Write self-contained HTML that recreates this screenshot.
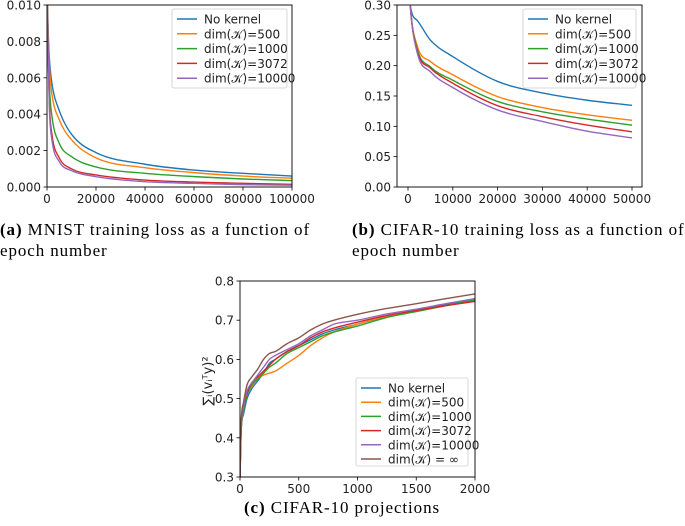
<!DOCTYPE html>
<html><head><meta charset="utf-8">
<style>
body{margin:0;background:#fff;width:685px;height:526px;overflow:hidden;position:relative}
svg{position:absolute;left:0;top:0}
.cap{position:absolute;font-family:"Liberation Serif",serif;font-size:17px;color:#000;line-height:21px;letter-spacing:0.9px;white-space:nowrap}
.tick{font-family:"DejaVu Sans",sans-serif;font-size:12px;fill:#222}
.leg{font-family:"DejaVu Sans",sans-serif;font-size:12px;fill:#222}
</style></head><body>
<svg id="svg" width="685" height="526"></svg>
<div class="cap" style="left:0;top:219px"><b>(a)</b> MNIST training loss as a function of<br>epoch number</div>
<div class="cap" style="left:352px;top:219px"><b>(b)</b> CIFAR-10 training loss as a function of<br>epoch number</div>
<div class="cap" style="left:244px;top:497px"><b>(c)</b> CIFAR-10 projections</div>
<script>
const colors=['#1f77b4','#ff7f0e','#2ca02c','#d62728','#9467bd','#8c564b'];
const labelsAB=['No kernel','dim(𝒦)=500','dim(𝒦)=1000','dim(𝒦)=3072','dim(𝒦)=10000'];
const labelsC=['No kernel','dim(𝒦)=500','dim(𝒦)=1000','dim(𝒦)=3072','dim(𝒦)=10000','dim(𝒦) = ∞'];

const xA=[0,500,1000,2000,5000,10000,20000,40000,60000,80000,100000];
const aNoKernel=[0.011,0.0085,0.007,0.0057,0.0042,0.0029,0.00189,0.00125,0.00093,0.00075,0.0006];
const a500=[0.011,0.0082,0.0065,0.0051,0.0037,0.0026,0.0016,0.00106,0.00079,0.0006,0.00048];
const a1000=[0.011,0.0078,0.0055,0.0039,0.0024,0.00167,0.0011,0.00075,0.00057,0.00044,0.00035];
const a3072=[0.011,0.0072,0.0045,0.0029,0.0016,0.001,0.00066,0.00038,0.00027,0.0002,0.00015];
const a10000=[0.011,0.007,0.0042,0.0026,0.0014,0.0009,0.00057,0.00029,0.0002,0.00013,0.0001];
const xTicksA=[0,20000,40000,60000,80000,100000];
const yTicksA=['0.000','0.002','0.004','0.006','0.008','0.010'];

const xB=[300,500,2000,5000,10000,20000,30000,40000,50000];
const bNoKernel=[0.33,0.30,0.275,0.242,0.215,0.174,0.155,0.143,0.1346];
const b500=[0.33,0.30,0.234,0.207,0.185,0.149,0.131,0.119,0.110];
const b1000=[0.33,0.30,0.229,0.198,0.176,0.141,0.124,0.112,0.102];
const b3072=[0.33,0.30,0.226,0.196,0.171,0.134,0.116,0.102,0.091];
const b10000=[0.33,0.30,0.223,0.19,0.164,0.127,0.108,0.092,0.081];
const xTicksB=[0,10000,20000,30000,40000,50000];
const yTicksB=['0.00','0.05','0.10','0.15','0.20','0.25','0.30'];

const xC=[0,10,30,60,100,150,200,250,300,400,500,600,700,800,1000,1250,1500,1750,2000];
const cNoKernel=[0.3,0.42,0.46,0.5,0.525,0.545,0.565,0.59,0.6,0.62,0.635,0.65,0.665,0.675,0.69,0.71,0.725,0.74,0.755];
const c500=[0.3,0.42,0.47,0.51,0.53,0.55,0.56,0.565,0.57,0.59,0.61,0.635,0.655,0.67,0.69,0.71,0.725,0.737,0.75];
const c1000=[0.3,0.42,0.47,0.51,0.535,0.55,0.565,0.58,0.59,0.615,0.63,0.645,0.66,0.67,0.685,0.707,0.722,0.737,0.752];
const c3072=[0.3,0.43,0.48,0.515,0.54,0.555,0.57,0.585,0.6,0.62,0.635,0.655,0.67,0.68,0.695,0.712,0.725,0.737,0.748];
const c10000=[0.3,0.43,0.48,0.52,0.54,0.56,0.58,0.6,0.61,0.625,0.64,0.66,0.675,0.69,0.70,0.716,0.728,0.742,0.755];
const cInf=[0.3,0.44,0.49,0.535,0.555,0.575,0.6,0.615,0.62,0.64,0.655,0.675,0.69,0.70,0.715,0.73,0.742,0.755,0.767];
const xTicksC=[0,500,1000,1500,2000];
const yTicksC=['0.3','0.4','0.5','0.6','0.7','0.8'];

const NS='http://www.w3.org/2000/svg';
const svg=document.getElementById('svg');
function mk(tag,attrs,parent){const e=document.createElementNS(NS,tag);for(const k in attrs)e.setAttribute(k,attrs[k]);(parent||svg).appendChild(e);return e;}

// monotone cubic path through screen points
function monoPath(P){
  const n=P.length;if(n<2)return'';
  const d=[],m=[];
  for(let i=0;i<n-1;i++)d.push((P[i+1][1]-P[i][1])/(P[i+1][0]-P[i][0]));
  m[0]=d[0];m[n-1]=d[n-2];
  for(let i=1;i<n-1;i++){m[i]=(d[i-1]*d[i]<=0)?0:(d[i-1]+d[i])/2;}
  for(let i=0;i<n-1;i++){if(d[i]===0){m[i]=0;m[i+1]=0;continue;}
    const a=m[i]/d[i],b=m[i+1]/d[i],s=a*a+b*b;if(s>9){const t=3/Math.sqrt(s);m[i]=t*a*d[i];m[i+1]=t*b*d[i];}}
  let s='M'+P[0][0].toFixed(2)+','+P[0][1].toFixed(2);
  for(let i=0;i<n-1;i++){const h=(P[i+1][0]-P[i][0])/3;
    s+=' C'+(P[i][0]+h).toFixed(2)+','+(P[i][1]+m[i]*h).toFixed(2)+' '+(P[i+1][0]-h).toFixed(2)+','+(P[i+1][1]-m[i+1]*h).toFixed(2)+' '+P[i+1][0].toFixed(2)+','+P[i+1][1].toFixed(2);}
  return s;
}

function chart(id,box,xd,yd,xs,series,xt,yt,labels,leg){
  const g=mk('g',{});
  
  
  const X=v=>box.x0+(v-xd[0])/(xd[1]-xd[0])*(box.x1-box.x0);
  const Y=v=>box.y1-(v-yd[0])/(yd[1]-yd[0])*(box.y1-box.y0);
  const cp=mk('clipPath',{id:id+'-clip'},g);
  mk('rect',{x:box.l,y:box.y0,width:box.r-box.l,height:box.y1-box.y0},cp);
  const sg=mk('g',{'clip-path':'url(#'+id+'-clip)'},g);
  series.forEach((s,i)=>{
    const p=mk('path',{d:monoPath(s.map((v,j)=>[X(xs[j]),Y(v)])),fill:'none',stroke:colors[i],'stroke-width':1.4,'stroke-linejoin':'round'},sg);
    
    
  });
  const fr=mk('rect',{x:box.l,y:box.y0,width:box.r-box.l,height:box.y1-box.y0,fill:'none',stroke:'#000','stroke-width':0.9},g);
  
  
  xt.forEach(t=>{const x=X(t);mk('line',{x1:x,x2:x,y1:box.y1,y2:box.y1+3.5,stroke:'#000','stroke-width':0.8},g);
    const tx=mk('text',{x:x,y:box.y1+16,'text-anchor':'middle',class:'tick'},g);tx.textContent=t;
    
    });
  yt.forEach(t=>{const y=Y(parseFloat(t));mk('line',{x1:box.l-3.5,x2:box.l,y1:y,y2:y,stroke:'#000','stroke-width':0.8},g);
    const tx=mk('text',{x:box.l-6,y:y+4.5,'text-anchor':'end',class:'tick'},g);tx.textContent=t;
    
    });
  const lg=mk('g',{},g);
  
  
  mk('rect',{x:leg.x,y:leg.y,width:leg.w,height:leg.h,rx:2,fill:'#fff','fill-opacity':0.85,stroke:'#ccc','stroke-width':0.8},lg);
  labels.forEach((l,i)=>{const y=leg.y+10+i*leg.s;
    mk('line',{x1:leg.x+5,x2:leg.x+25,y1:y,y2:y,stroke:colors[i],'stroke-width':1.5},lg);
    const t=mk('text',{x:leg.x+32,y:y+4.5,class:'leg'},lg);t.textContent=l;
    
    });
}
chart('chart-mnist',{l:47,r:292,x0:47,x1:292,y0:5,y1:187},[0,100000],[0,0.01],xA,[aNoKernel,a500,a1000,a3072,a10000],xTicksA,yTicksA,labelsAB,{x:172,y:9,w:115,h:79,s:14.8});
chart('chart-cifar',{l:397,r:642,x0:408,x1:632,y0:5,y1:187},[0,50000],[0,0.3],xB,[bNoKernel,b500,b1000,b3072,b10000],xTicksB,yTicksB,labelsAB,{x:523,y:9,w:113,h:79,s:14.8});
chart('chart-proj',{l:240,r:475,x0:240,x1:475,y0:281,y1:477},[0,2000],[0.3,0.8],xC,[cNoKernel,c500,c1000,c3072,c10000,cInf],xTicksC,yTicksC,labelsC,{x:356,y:378,w:112,h:88,s:14.2});
const yl=mk('text',{x:0,y:0,transform:'translate(212,381) rotate(-90)','text-anchor':'middle',style:'font-family:"DejaVu Sans",sans-serif;font-size:13px;fill:#222'});
yl.textContent='∑ᵢ(vᵢᵀy)²';


</script>
</body></html>
